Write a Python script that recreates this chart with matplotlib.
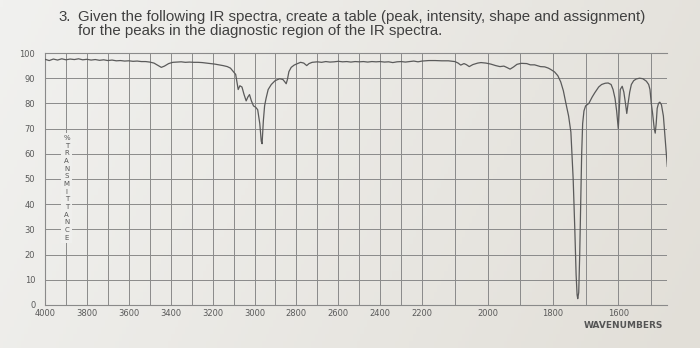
import numpy as np
import matplotlib
matplotlib.use('Agg')
import matplotlib.pyplot as plt
from matplotlib.colors import LinearSegmentedColormap

# IR spectrum (wavenumber cm-1, % transmittance)
wavenumber = [4000, 3980, 3960, 3940, 3920, 3900, 3880, 3860, 3840, 3820,
              3800, 3780, 3760, 3740, 3720, 3700, 3680, 3660, 3640, 3620,
              3600, 3580, 3560, 3540, 3520, 3500, 3480, 3460, 3445, 3430,
              3410, 3390, 3370, 3350, 3330, 3310, 3290, 3270, 3250, 3230,
              3210, 3190, 3170, 3150, 3130, 3115, 3105, 3098, 3090, 3084,
              3078, 3070, 3060, 3050, 3040, 3032, 3024, 3015, 3005, 2995,
              2985, 2975, 2968, 2964, 2958, 2952, 2945, 2935, 2920, 2902,
              2880, 2865, 2855, 2849, 2843, 2836, 2825, 2811, 2795, 2780,
              2765, 2751, 2740, 2725, 2700, 2680, 2660, 2640, 2620, 2600,
              2580, 2560, 2540, 2520, 2500, 2480, 2460, 2440, 2420, 2400,
              2380, 2360, 2340, 2320, 2300, 2280, 2260, 2240, 2220, 2200,
              2180, 2160, 2140, 2120, 2100, 2090, 2082, 2072, 2065, 2056,
              2045, 2030, 2020, 2005, 1990, 1975, 1962, 1950, 1940, 1931,
              1920, 1910, 1897, 1880, 1869, 1856, 1838, 1825, 1814, 1807,
              1795, 1785, 1776, 1768, 1761, 1752, 1745, 1738, 1733, 1729,
              1726, 1724, 1721, 1718, 1715, 1712, 1709, 1705, 1700, 1690,
              1680, 1672, 1660, 1651, 1640, 1631, 1622, 1616, 1610, 1605,
              1600, 1597, 1594, 1588, 1583, 1578, 1574, 1570, 1565, 1560,
              1553, 1545, 1535, 1525, 1514, 1507, 1503, 1499, 1495, 1490,
              1487, 1484, 1481, 1477, 1473, 1468, 1462, 1456, 1450]
transmittance = [97.5, 97.0, 97.6, 97.2, 97.7, 97.3, 97.6, 97.4, 97.7, 97.3,
                 97.5, 97.2, 97.4, 97.1, 97.3, 97.0, 97.2, 96.9, 97.0, 96.8,
                 96.9, 96.7, 96.8, 96.6, 96.6, 96.4, 96.0, 95.0, 94.3, 94.8,
                 95.8, 96.3, 96.4, 96.5, 96.3, 96.4, 96.3, 96.3, 96.2, 96.0,
                 95.8, 95.6, 95.3, 95.0, 94.6, 94.0, 93.0, 92.3, 91.5, 88.5,
                 85.5, 87.0, 86.5, 83.5, 81.0, 82.5, 83.5, 81.0, 79.0, 78.5,
                 77.5, 72.0, 65.0, 64.0, 73.0, 79.0, 82.0, 85.5, 87.5, 89.0,
                 89.8, 89.5, 88.5, 87.8, 89.5, 92.6, 94.3, 95.2, 95.8, 96.3,
                 96.0, 95.0, 95.8, 96.3, 96.5, 96.3, 96.6, 96.4, 96.5, 96.7,
                 96.5, 96.6, 96.4, 96.6, 96.5, 96.6, 96.4, 96.6, 96.5, 96.6,
                 96.4, 96.5, 96.2, 96.5, 96.6, 96.4, 96.6, 96.8, 96.5, 96.8,
                 97.0, 97.0, 96.9, 96.9, 96.6, 96.0, 95.2, 95.8, 95.4, 94.6,
                 95.4, 96.0, 96.2, 96.0, 95.6, 95.0, 94.6, 94.8, 94.2, 93.6,
                 94.5, 95.5, 95.9, 95.8, 95.3, 95.3, 94.6, 94.5, 94.0, 93.5,
                 92.5, 91.0, 88.5, 85.0, 80.5, 75.0, 68.6, 50.0, 30.0, 12.0,
                 4.0, 2.5, 5.0, 20.0, 40.0, 60.0, 72.0, 77.0, 79.0, 80.0,
                 82.5, 84.2, 86.5, 87.5, 88.0, 88.1, 87.5, 85.5, 82.0, 77.0,
                 70.0, 78.0, 85.5, 86.8, 84.5, 80.0, 76.0, 80.0, 84.5, 87.5,
                 89.0, 89.7, 90.0, 89.8, 88.8, 87.5, 85.5, 80.0, 76.0, 70.0,
                 68.2, 72.0, 78.0, 80.0, 80.5, 79.5, 75.0, 65.0, 55.0]

x_labels = [4000, 3800, 3600, 3400, 3200, 3000, 2800, 2600, 2400, 2200,
            2000, 1800, 1600]
x_grid = list(range(4000, 1499, -100))
y_ticks = [0, 10, 20, 30, 40, 50, 60, 70, 80, 90, 100]
ylabel_letters = ['%', 'T', 'R', 'A', 'N', 'S', 'M', 'I', 'T', 'T', 'A', 'N', 'C', 'E']

# chart paper: expanded scale below 2200
BREAK = 2200
STRETCH = 1.56


def fwd(w):
    w = np.asarray(w, dtype=float)
    return np.where(w >= BREAK, w, BREAK + STRETCH * (w - BREAK))


def inv(u):
    u = np.asarray(u, dtype=float)
    return np.where(u >= BREAK, u, BREAK + (u - BREAK) / STRETCH)


paper = '#ebeae6'
ink = '#5a5a5a'
grid_c = '#8a8a8a'

fig = plt.figure(figsize=(7, 3.48), dpi=100)
fig.patch.set_facecolor(paper)

# paper shading of the photo
bg = fig.add_axes([0, 0, 1, 1], zorder=-5)
shade = np.linspace(0, 1, 200)[None, :] * 0.8 + np.linspace(0, 1, 50)[:, None] * 0.2
cmap = LinearSegmentedColormap.from_list('paper', ['#f1f1ef', '#e2dfd8'])
bg.imshow(shade, cmap=cmap, aspect='auto', extent=[0, 1, 0, 1])
bg.axis('off')

ax = fig.add_axes([0.0643, 0.1236, 0.889, 0.7241])
ax.set_facecolor('none')
ax.set_xscale('function', functions=(fwd, inv))
ax.set_xlim(4000, 1450)
ax.set_ylim(0, 100)

ax.plot(wavenumber, transmittance, color=ink, lw=0.9, zorder=3)

ax.set_xticks(x_labels)
ax.set_xticks(x_grid, minor=True)
ax.set_xticklabels([str(v) for v in x_labels])
ax.set_yticks(y_ticks)
ax.set_yticklabels([str(v) for v in y_ticks])
ax.tick_params(axis='both', which='both', length=0, labelsize=6, labelcolor='#5a5a5a')
ax.tick_params(axis='x', pad=3)
ax.tick_params(axis='y', pad=7)
ax.grid(True, which='both', color=grid_c, lw=0.7)
for side in ['left', 'bottom', 'top']:
    ax.spines[side].set_color(grid_c)
    ax.spines[side].set_linewidth(0.8)
ax.spines['right'].set_visible(False)

ax.text(0.035, 0.465, '\n'.join(ylabel_letters), transform=ax.transAxes,
        ha='center', va='center', fontsize=5, linespacing=1.33, color='#555555',
        bbox=dict(facecolor='#efefed', edgecolor='none', pad=1.5), zorder=4)

fig.text(623 / 700, 1 - 326 / 348, 'WAVENUMBERS', ha='center', va='center',
         fontsize=6.5, fontweight='bold', color='#555555')

title_font = dict(family='Liberation Sans', fontsize=10.8, color='#404040', va='baseline')
fig.text(58 / 700, 1 - 21 / 348, '3.', **title_font)
fig.text(78 / 700, 1 - 21 / 348,
         'Given the following IR spectra, create a table (peak, intensity, shape and assignment)',
         **title_font)
fig.text(78 / 700, 1 - 35.5 / 348,
         'for the peaks in the diagnostic region of the IR spectra.', **title_font)

fig.savefig('out.png', dpi=100, facecolor=fig.get_facecolor())
